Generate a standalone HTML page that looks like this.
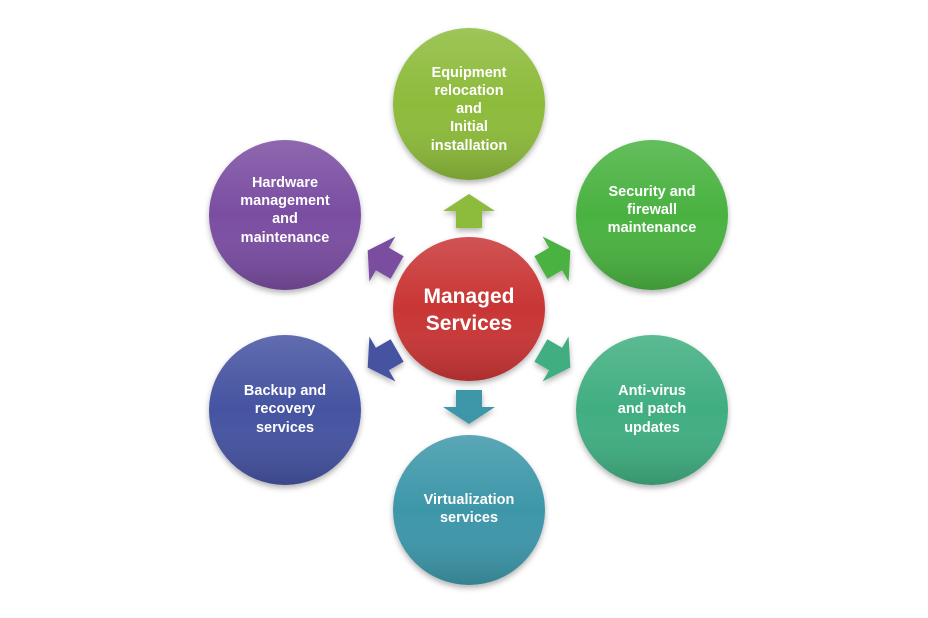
<!DOCTYPE html>
<html><head><style>body{margin:0;background:#fff}svg{display:block}text{font-family:"Liberation Sans",sans-serif;font-weight:bold;fill:#fff;text-anchor:middle}</style></head><body>
<svg width="928" height="618" viewBox="0 0 928 618">
<defs>
<filter id="sh" x="-20%" y="-20%" width="140%" height="150%"><feDropShadow dx="0" dy="3" stdDeviation="3" flood-opacity="0.3"/></filter>
<linearGradient id="gl" x1="0" y1="0" x2="0" y2="1"><stop offset="0" stop-color="#fff" stop-opacity="0.15"/><stop offset="0.5" stop-color="#fff" stop-opacity="0"/><stop offset="1" stop-color="#000" stop-opacity="0.15"/></linearGradient>
<path id="ar" d="M-26,0 L0,-17 L26,0 L13,0 L13,17 L-13,17 L-13,0 Z"/>
</defs>
<g filter="url(#sh)">
<ellipse cx="469" cy="104" rx="76" ry="76" fill="#8dbb3a"/>
<ellipse cx="652" cy="215" rx="76" ry="75" fill="#49b23f"/>
<ellipse cx="652" cy="410" rx="76" ry="75" fill="#3fae80"/>
<ellipse cx="469" cy="510" rx="76" ry="75" fill="#3e97a9"/>
<ellipse cx="285" cy="410" rx="76" ry="75" fill="#4553a1"/>
<ellipse cx="285" cy="215" rx="76" ry="75" fill="#7a4ea1"/>
<ellipse cx="469" cy="309" rx="76" ry="72" fill="#c93435"/>
<g transform="translate(469,309)">
<use href="#ar" fill="#8dbb3a" transform="rotate(0) translate(0,-98)"/>
<use href="#ar" fill="#49b23f" transform="rotate(60) translate(0,-100)"/>
<use href="#ar" fill="#3fae80" transform="rotate(120) translate(0,-100)"/>
<use href="#ar" fill="#3e97a9" transform="rotate(180) translate(0,-98)"/>
<use href="#ar" fill="#4553a1" transform="rotate(240) translate(0,-100)"/>
<use href="#ar" fill="#7a4ea1" transform="rotate(300) translate(0,-100)"/>
</g>
</g>
<g fill="url(#gl)">
<ellipse cx="469" cy="104" rx="76" ry="76"/><ellipse cx="652" cy="215" rx="76" ry="75"/><ellipse cx="652" cy="410" rx="76" ry="75"/><ellipse cx="469" cy="510" rx="76" ry="75"/><ellipse cx="285" cy="410" rx="76" ry="75"/><ellipse cx="285" cy="215" rx="76" ry="75"/><ellipse cx="469" cy="309" rx="76" ry="72"/>
</g>
<g font-size="14.5">
<text x="469" y="77">Equipment</text><text x="469" y="95">relocation</text><text x="469" y="113">and</text><text x="469" y="131">Initial</text><text x="469" y="150">installation</text>
<text x="652" y="196">Security and</text><text x="652" y="214">firewall</text><text x="652" y="232">maintenance</text>
<text x="652" y="395">Anti-virus</text><text x="652" y="413">and patch</text><text x="652" y="432">updates</text>
<text x="469" y="504">Virtualization</text><text x="469" y="522">services</text>
<text x="285" y="395">Backup and</text><text x="285" y="413">recovery</text><text x="285" y="432">services</text>
<text x="285" y="187">Hardware</text><text x="285" y="205">management</text><text x="285" y="223">and</text><text x="285" y="242">maintenance</text>
</g>
<text x="469" y="303" font-size="21">Managed</text>
<text x="469" y="330" font-size="21">Services</text>
</svg>
</body></html>
